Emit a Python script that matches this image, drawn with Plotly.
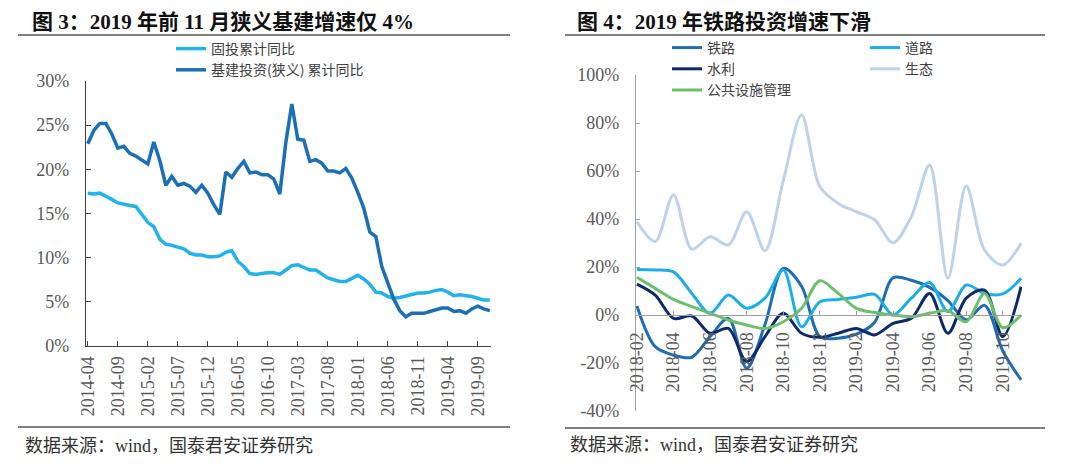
import plotly.graph_objects as go
import pandas as pd

W, H = 1080, 466

# ---------------- data: left chart (figure 3) ----------------
months_left = [p.strftime("%Y-%m") for p in pd.period_range("2014-04", "2019-11", freq="M")]
fai_cum = [17.3, 17.2, 17.3, 17.0, 16.6, 16.2, 16.0, 15.9, 15.8, 14.9,
           14.0, 13.5, 12.1, 11.5, 11.4, 11.2, 11.0, 10.5, 10.3, 10.3,
           10.1, 10.1, 10.2, 10.6, 10.8, 9.6, 9.0, 8.2, 8.1, 8.2,
           8.3, 8.3, 8.1, 8.6, 9.1, 9.2, 8.9, 8.6, 8.6, 8.2,
           7.7, 7.5, 7.3, 7.3, 7.6, 8.0, 7.6, 7.0, 6.1, 6.0,
           5.6, 5.4, 5.5, 5.7, 5.9, 6.0, 6.0, 6.1, 6.3, 6.4,
           6.1, 5.7, 5.8, 5.7, 5.6, 5.4, 5.2, 5.2]
infra_cum = [22.9, 24.4, 25.2, 25.2, 24.0, 22.4, 22.6, 21.8, 21.5, 21.0,
             20.6, 23.1, 21.0, 18.2, 19.2, 18.2, 18.4, 18.1, 17.4, 18.2,
             17.3, 16.0, 14.9, 19.7, 19.1, 20.1, 20.9, 19.6, 19.7, 19.4,
             19.4, 18.9, 17.2, 23.0, 27.4, 23.4, 23.3, 20.9, 21.1, 20.7,
             19.8, 19.8, 19.6, 20.1, 19.0, 17.4, 15.6, 12.9, 12.4, 9.0,
             7.0, 5.3, 4.0, 3.3, 3.7, 3.7, 3.7, 3.9, 4.1, 4.3,
             4.3, 3.9, 4.0, 3.7, 4.2, 4.5, 4.2, 4.0]
left_tick_labels = months_left[::5]
left_y_ticks = [0, 5, 10, 15, 20, 25, 30]
left_y_ticktext = [f"{v}%" for v in left_y_ticks]

# ---------------- data: right chart (figure 4) ----------------
months_right = [p.strftime("%Y-%m") for p in pd.period_range("2018-02", "2019-11", freq="M")]
railway = [3.8, -13.2, -16.7, -17.6, -9.0, -1.4, -22.2, -4.0, 19.4, 12.0, -9.0,
           -9.7, -8.0, -3.0, 15.5, 14.5, 11.5, 6.0, -2.0, 4.0, -15.0, -27.0]
road = [19.0, 18.8, 18.0, 9.0, 0.7, 8.3, 2.8, 7.0, 18.8, -4.9, 5.5,
        6.5, 7.4, 8.6, 0.0, 7.0, 13.5, 1.4, 12.5, 9.0, 8.8, 15.3]
water = [12.9, 8.3, -1.4, -0.4, -7.6, -5.6, -19.4, -9.0, 0.7, -7.6, -9.3,
         -7.6, -5.6, -8.3, -3.5, -1.4, 9.0, -7.6, 7.0, 10.4, -9.0, 11.8]
ecology = [38.9, 30.6, 50.0, 27.4, 32.6, 29.2, 43.0, 26.8, 56.0, 83.3, 53.5,
           46.5, 43.0, 39.6, 30.1, 41.0, 62.5, 15.3, 53.8, 27.1, 20.8, 29.9]
public_fac = [15.7, 11.1, 6.5, 3.5, 0.7, -2.1, -4.2, -5.6, -2.8, 2.8, 14.3,
              9.0, 2.8, 1.0, 0.0, -0.7, 0.7, 1.8, -2.8, 9.0, -5.3, 0.0]
right_tick_labels = months_right[::2]
right_y_ticks = [-40, -20, 0, 20, 40, 60, 80, 100]
right_y_ticktext = [f"{v}%" for v in right_y_ticks]

# ---------------- styling ----------------
SERIF = "Liberation Serif, Times New Roman, serif"
CJK = "Noto Sans CJK SC, sans-serif"
TICK_FONT = dict(family=SERIF, size=18, color="#595959")
LEG_FONT = dict(family=CJK, size=14, color="#404040")


def px(x):
    return x / W


def py(y):
    return 1 - y / H


fig = go.Figure()

# left chart
fig.add_trace(go.Scatter(x=months_left, y=fai_cum, mode="lines", name="固投累计同比",
                         line=dict(color="#22B2EC", width=3.5), xaxis="x", yaxis="y",
                         legend="legend"))
fig.add_trace(go.Scatter(x=months_left, y=infra_cum, mode="lines", name="基建投资(狭义) 累计同比",
                         line=dict(color="#1B6FB5", width=3.5), xaxis="x", yaxis="y",
                         legend="legend"))

# right chart
right_series = [
    ("铁路", railway, "#1F6DB3", "legend2"),
    ("道路", road, "#1CAEEA", "legend3"),
    ("水利", water, "#0D2B6A", "legend2"),
    ("生态", ecology, "#BCD3EA", "legend3"),
    ("公共设施管理", public_fac, "#6CBF6C", "legend2"),
]
for name, vals, color, leg in right_series:
    fig.add_trace(go.Scatter(x=months_right, y=vals, mode="lines", name=name,
                             line=dict(color=color, width=3, shape="spline", smoothing=0.9),
                             xaxis="x2", yaxis="y2", legend=leg))

y2_dom = [py(411), py(75)]
y2_rng = [-40, 100]
zero_pos = y2_dom[0] + (0 - y2_rng[0]) / (y2_rng[1] - y2_rng[0]) * (y2_dom[1] - y2_dom[0])

fig.update_layout(
    width=W, height=H,
    margin=dict(l=0, r=0, t=0, b=0, autoexpand=False),
    paper_bgcolor="white", plot_bgcolor="white",
    showlegend=True,
    xaxis=dict(domain=[px(86), px(491)], type="category", range=[-0.3, 67.2],
               anchor="y", showline=True, linecolor="#404040", linewidth=1.2,
               ticks="inside", ticklen=5, tickcolor="#404040",
               tickvals=left_tick_labels, ticktext=left_tick_labels,
               tickangle=-90, tickfont=TICK_FONT, ticklabelstandoff=2,
               showgrid=False, zeroline=False, automargin=False),
    yaxis=dict(domain=[py(346), py(81)], range=[0, 30], anchor="x",
               showline=True, linecolor="#404040", linewidth=1.2,
               ticks="inside", ticklen=5, tickcolor="#404040",
               tickvals=left_y_ticks, ticktext=left_y_ticktext, tickfont=TICK_FONT,
               ticklabelstandoff=12, showgrid=False, zeroline=False, automargin=False),
    xaxis2=dict(domain=[px(636), px(1022)], type="category", range=[-0.05, 21.05],
                anchor="free", position=zero_pos, showline=True, linecolor="#A0A0A0",
                linewidth=1.2, ticks="inside", ticklen=4, tickcolor="#A0A0A0",
                tickvals=right_tick_labels, ticktext=right_tick_labels,
                tickangle=-90, tickfont=TICK_FONT, ticklabelstandoff=9,
                showgrid=False, zeroline=False, automargin=False),
    yaxis2=dict(domain=y2_dom, range=y2_rng, anchor="x2",
                showline=True, linecolor="#A0A0A0", linewidth=1.2,
                ticks="inside", ticklen=4, tickcolor="#A0A0A0",
                tickvals=right_y_ticks, ticktext=right_y_ticktext, tickfont=TICK_FONT,
                ticklabelstandoff=12, showgrid=False, zeroline=False, automargin=False),
    legend=dict(x=px(171), y=py(33), xanchor="left", yanchor="top",
                font=LEG_FONT, bgcolor="rgba(0,0,0,0)", tracegroupgap=0),
    legend2=dict(x=px(667), y=py(32), xanchor="left", yanchor="top",
                 font=LEG_FONT, bgcolor="rgba(0,0,0,0)", tracegroupgap=0),
    legend3=dict(x=px(865), y=py(32), xanchor="left", yanchor="top",
                 font=LEG_FONT, bgcolor="rgba(0,0,0,0)", tracegroupgap=0),
)

TITLE_FONT = dict(family="Liberation Serif, Noto Sans CJK SC", size=21, color="#111111")
SRC_FONT = dict(family="Liberation Serif, Noto Sans CJK SC", size=18, color="#333333")

annotations = [
    dict(text="<b>图 3：2019 年前 11 月狭义基建增速仅 4%</b>", x=px(30), y=py(22),
         xanchor="left", yanchor="middle", font=TITLE_FONT),
    dict(text="<b>图 4：2019 年铁路投资增速下滑</b>", x=px(575), y=py(22),
         xanchor="left", yanchor="middle", font=TITLE_FONT),
    dict(text="数据来源：wind，国泰君安证券研究", x=px(23), y=py(446),
         xanchor="left", yanchor="middle", font=SRC_FONT),
    dict(text="数据来源：wind，国泰君安证券研究", x=px(568), y=py(445),
         xanchor="left", yanchor="middle", font=SRC_FONT),
]
for a in annotations:
    a.update(xref="paper", yref="paper", showarrow=False)
fig.update_layout(annotations=annotations)

rules = [(18, 510, 35), (18, 510, 427), (565, 1045, 35), (565, 1045, 428)]
fig.update_layout(shapes=[
    dict(type="line", xref="paper", yref="paper", x0=px(a), x1=px(b), y0=py(y), y1=py(y),
         line=dict(color="#555555", width=1.5))
    for a, b, y in rules
])

fig.write_html("out.html")
